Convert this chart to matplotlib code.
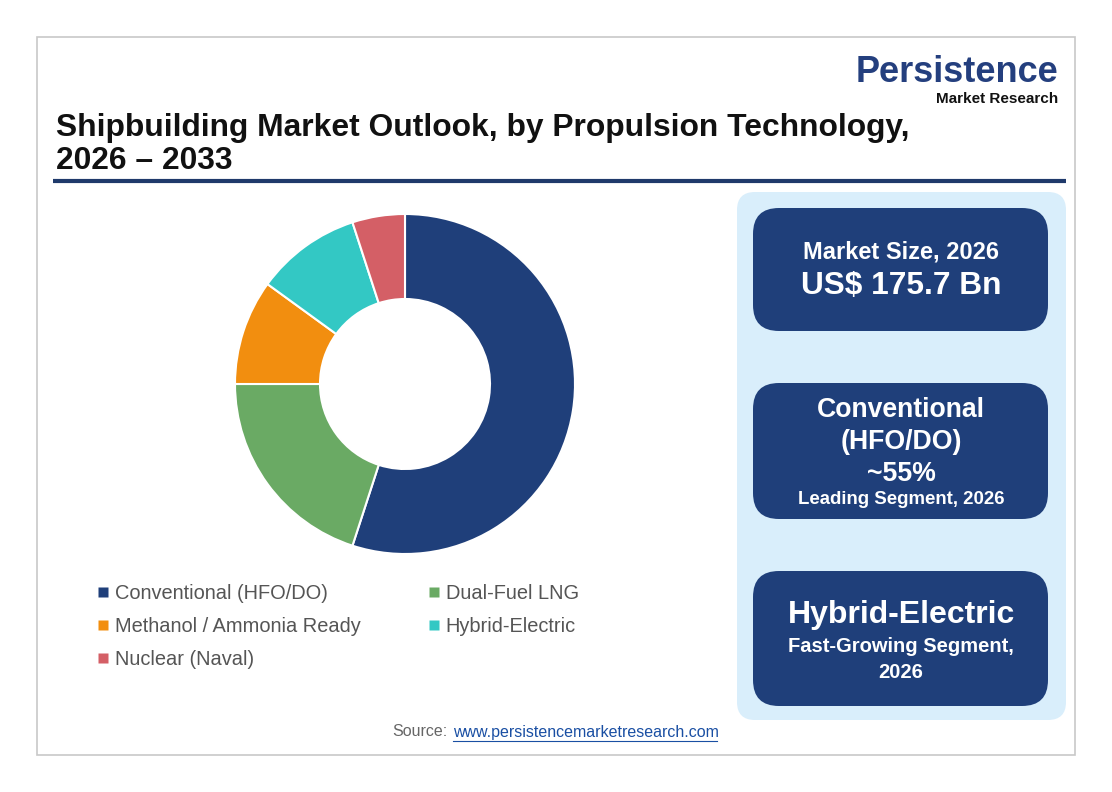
import matplotlib
matplotlib.use("Agg")
import matplotlib.pyplot as plt
from matplotlib.patches import FancyBboxPatch, Rectangle
from matplotlib.lines import Line2D

plt.rcParams['font.family'] = ['Liberation Sans', 'DejaVu Sans']

# ---- data ----
categories = ["Conventional (HFO/DO)", "Dual-Fuel LNG", "Methanol / Ammonia Ready",
              "Hybrid-Electric", "Nuclear (Naval)"]
shares = [55, 20, 10, 10, 5]
colors = ["#1f3f7a", "#6aaa64", "#f28e0f", "#33c8c4", "#d45f66"]

title_lines = ["Shipbuilding Market Outlook, by Propulsion Technology,", "2026 \u2013 2033"]
market_label = "Market Size, 2026"
market_value = "US$ 175.7 Bn"
lead_name = ["Conventional", "(HFO/DO)"]
lead_share = "~55%"
lead_note = "Leading Segment, 2026"
fast_name = "Hybrid-Electric"
fast_note = ["Fast-Growing Segment,", "2026"]

W, H = 1112, 792
NAVY = "#1f3f7a"
fig = plt.figure(figsize=(W / 100, H / 100), dpi=100)
bg = fig.add_axes([0, 0, 1, 1])
bg.set_xlim(0, W)
bg.set_ylim(H, 0)
bg.axis("off")

# outer border
bg.add_patch(Rectangle((37, 37), 1038, 718, fill=False, edgecolor="#c8c8c8", lw=1.2))

# logo
bg.text(1058, 82, "Persistence", ha="right", va="baseline", fontsize=26, fontweight="bold",
        color="#243f7e")
bg.text(1058, 103, "Market Research", ha="right", va="baseline", fontsize=11, fontweight="bold",
        color="#111111")

# title
bg.text(56, 128, title_lines[0], ha="left", va="center", fontsize=22.9, fontweight="bold", color="#111111")
bg.text(56, 161, title_lines[1], ha="left", va="center", fontsize=22.9, fontweight="bold", color="#111111")
bg.plot([53, 1066], [181, 181], color="#1f3a6b", lw=3, solid_capstyle="butt")

# right panel
bg.add_patch(FancyBboxPatch((737 + 18, 192 + 18), 329 - 36, 528 - 36,
                            boxstyle="round,pad=18", facecolor="#d9eefb", edgecolor="none"))
boxes = [(753, 208, 295, 123), (753, 383, 295, 136), (753, 571, 295, 135)]
for (x, y, w, h) in boxes:
    r = 26
    bg.add_patch(FancyBboxPatch((x + r, y + r), w - 2 * r, h - 2 * r,
                                boxstyle=f"round,pad={r}", facecolor=NAVY, edgecolor="none"))

cx = 901
bg.text(cx, 252, market_label, ha="center", va="center", fontsize=17, fontweight="bold", color="white")
bg.text(cx, 286, market_value, ha="center", va="center", fontsize=22.8, fontweight="bold", color="white")

bg.text(cx, 410, lead_name[0], ha="center", va="center", fontsize=19.2, fontweight="bold", color="white")
bg.text(cx, 442, lead_name[1], ha="center", va="center", fontsize=19.2, fontweight="bold", color="white")
bg.text(cx, 474, lead_share, ha="center", va="center", fontsize=19.2, fontweight="bold", color="white")
bg.text(cx, 500, lead_note, ha="center", va="center", fontsize=13.4, fontweight="bold", color="white")

bg.text(cx, 615, fast_name, ha="center", va="center", fontsize=23, fontweight="bold", color="white")
bg.text(cx, 647, fast_note[0], ha="center", va="center", fontsize=14.5, fontweight="bold", color="white")
bg.text(cx, 673, fast_note[1], ha="center", va="center", fontsize=14.5, fontweight="bold", color="white")

# source
bg.text(448, 732, "Source:", ha="right", va="center", fontsize=11.5, color="#666666")
bg.text(453, 732, "www.persistencemarketresearch.com", ha="left", va="center",
        fontsize=11.5, color="#1a4fa3")
bg.plot([453, 717], [741, 741], color="#1a4fa3", lw=0.8)

# donut
ccx, ccy, R = 405, 384, 170
ax = fig.add_axes([(ccx - R) / W, 1 - (ccy + R) / H, 2 * R / W, 2 * R / H])
wedges, _ = ax.pie(shares, colors=colors, startangle=90, counterclock=False, radius=1,
                   wedgeprops=dict(width=0.5, edgecolor="white", linewidth=1.5))
ax.set_xlim(-1, 1)
ax.set_ylim(-1, 1)
ax.axis("off")

# legend (row-major order displayed via column-major reorder)
order = [0, 2, 4, 1, 3]
handles = [Line2D([], [], linestyle="none", marker="s", markersize=6.5,
                  markerfacecolor=colors[i], markeredgecolor="none", label=categories[i]) for i in order]
fig.legend(handles=handles, loc="upper left", bbox_to_anchor=(98 / W, 1 - 584 / H), ncol=2,
           frameon=False, fontsize=14.4, labelcolor="#555555", handlelength=0.5,
           handletextpad=0.35, columnspacing=3.4, labelspacing=0.7, borderaxespad=0, borderpad=0)

fig.savefig("out.png", dpi=100)
